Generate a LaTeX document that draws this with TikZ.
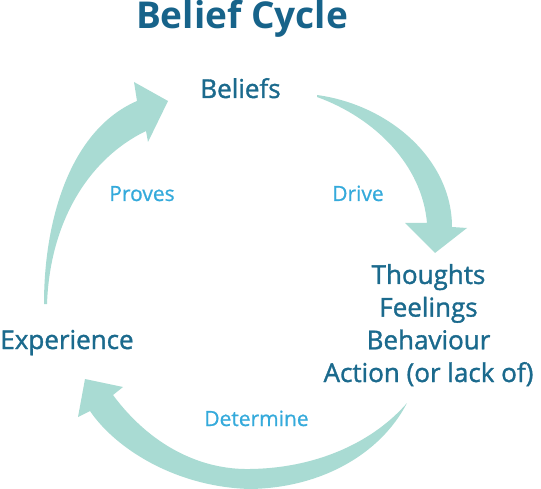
\documentclass[tikz,border=0pt]{standalone}
\usepackage{fontspec}
\setmainfont{Open Sans}
\newfontfamily\semib{Open Sans}[FakeBold=1.3]
\newfontfamily\medium{Open Sans}[FakeBold=0.8]
\definecolor{titleblue}{HTML}{17638A}
\definecolor{nodeblue}{HTML}{1B6A8D}
\definecolor{labelblue}{HTML}{35AADB}
\definecolor{arrowteal}{HTML}{A9DBD3}
\begin{document}
\begin{tikzpicture}[x=1pt,y=-1pt,
  stage/.style={inner sep=0pt,anchor=base,text=nodeblue,font=\semib\fontsize{26}{32.7}\selectfont,align=center},
  verb/.style={inner sep=0pt,anchor=base,text=labelblue,font=\medium\fontsize{21}{24}\selectfont},
  bigarrow/.style={fill=arrowteal,draw=none}]
\useasboundingbox (0,0) rectangle (541,489);
% arrows
\fill[bigarrow] (44,304) .. controls (44,220) and (70,130) .. (137,101)
  -- (134,82) -- (168,101) -- (148,142) -- (146,131)
  .. controls (90,158) and (50,220) .. (47,304) -- cycle;
\fill[bigarrow] (317,95) .. controls (390,105) and (452,160) .. (452,227)
  -- (467,228) -- (435,253) -- (405,223) -- (427,223)
  .. controls (422,165) and (375,118) .. (317,97) -- cycle;
\fill[bigarrow] (407,403) .. controls (380,455) and (320,488) .. (250,489)
  .. controls (175,487) and (115,448) .. (90,411)
  -- (78,417) -- (85,379) -- (123,387) -- (113,395)
  .. controls (150,445) and (200,470) .. (250,469)
  .. controls (320,468) and (375,440) .. (407,403) -- cycle;
% texts
\node[inner sep=0pt,anchor=base,text=titleblue,font=\fontsize{37}{40}\selectfont\bfseries] (title) at (242,29) {Belief Cycle};
\node[stage] (beliefs) at (240.5,98) {Beliefs};
\node[stage] (tfba) at (428.5,382) {Thoughts\\Feelings\\Behaviour\\Action (or lack of)};
\node[stage] (exp) at (67,349) {Experience};
\node[verb] (proves) at (142,201) {Proves};
\node[verb] (drive) at (358,201) {Drive};
\node[verb] (determine) at (256.5,426) {Determine};
\end{tikzpicture}
\end{document}
